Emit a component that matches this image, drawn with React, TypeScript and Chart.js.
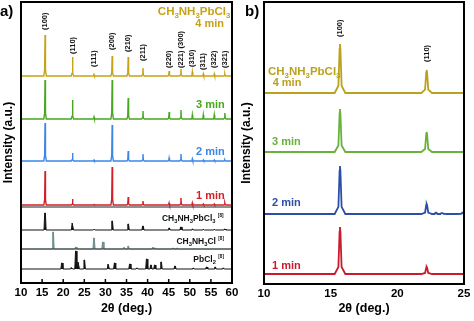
import React, { useEffect, useRef } from 'react';
import { Chart, registerables } from 'chart.js';
Chart.register(...registerables);

const FONT = '"Liberation Sans", Arial, sans-serif';

// ---------- Panel a data ----------
const aPeakPos = [15.7, 22.2, 27.3, 31.6, 35.4, 38.9, 45.1, 47.9, 50.6, 53.2, 55.8, 58.3];
const aMiller = ['(100)', '(110)', '(111)', '(200)', '(210)', '(211)', '(220)', '(221) (300)', '(310)', '(311)', '(322)', '(321)'];
const aMillerY = [253, 229, 216, 233, 231, 222, 215, 215, 216, 213, 215, 215];
const a4min = [41, 19, 1.5, 20, 19, 8, 5, 7, 4, 2, 2, 2];
const a3min = [39, 19, 2, 39, 21, 8, 7, 9, 4, 4, 4, 6];
const a2min = [38, 8, 1, 36, 10, 7, 3, 7, 2, 1, 1, 1];
const a1min = [34, 6, 0.5, 38, 8, 4, 2, 7, 2, 1, 1, 2];
const aRefMAPbCl3 = [17, 7, 0.5, 9, 6, 4, 2, 3, 1, 0.5, 0.5, 1];
const maclPos = [17.6, 23.0, 27.3, 29.4, 34.4, 35.4, 41.2, 41.8, 46.0, 47.0];
const maclInt = [17, 2, 11, 7, 1.5, 3, 1.5, 1, 1, 1];
const pbcl2Pos = [19.7, 22.0, 23.0, 23.6, 25.0, 30.7, 32.2, 35.8, 37.5, 39.8, 40.8, 41.7, 43.2, 46.5, 50.8, 54.0, 56.0, 57.9];
const pbcl2Int = [6, 1.5, 18, 7, 9, 5, 6, 5, 1, 10, 4, 4, 7, 3, 1, 2, 2, 1];
// vertical offsets (a.u.) of each stacked pattern
const aOffsets = { m4: 207, m3: 164, m2: 122, m1: 78, ref1: 53, ref2: 34, ref3: 14, divider: 76 };
const aXTicks = [10, 15, 20, 25, 30, 35, 40, 45, 50, 55, 60];

// ---------- Panel b data ----------
const bPeakPos = [15.7, 22.2];
const bMiller = ['(100)', '(110)'];
const bMillerY = [247, 222];
const b4min = [49, 23];
const b3min = [43, 20];
const b2min = [48, 10];
const b1min = [47, 7];
const b2minExtraPos = [22.9, 23.35, 24.9];
const b2minExtraInt = [1.2, 1, 1.2];
const bOffsets = { m4: 191, m3: 132, m2: 70, m1: 10 };

const GOLD = '#c6a216';
const GREEN_A = '#47a81f';
const BLUE_A = '#3c86e6';
const RED_A = '#d21f27';
const TEAL = '#6f8b8b';
const GOLD_B = '#bba21c';
const GREEN_B = '#68b23c';
const BLUE_B = '#2c4fa6';
const RED_B = '#c81c2c';

const SHAPE_SHARP: number[][] = [[-0.3, 0], [-0.1, 0.15], [0, 1], [0.1, 0.15], [0.3, 0]];
const SHAPE_BAR: number[][] = [[-0.25, 0], [-0.08, 1], [0.08, 1], [0.25, 0]];
const SHAPE_B: number[][] = [[-0.4, 0], [-0.12, 0.15], [-0.03, 0.9], [0, 1], [0.03, 0.9], [0.12, 0.15], [0.4, 0]];

function buildTrace(pos: number[], h: number[], offset: number, shape: number[][], xMin: number, xMax: number) {
  const pts: { x: number; y: number }[] = [{ x: xMin, y: offset }];
  const order = pos.map((_, i) => i).sort((a, b) => pos[a] - pos[b]);
  for (const i of order) for (const [dx, f] of shape) pts.push({ x: pos[i] + dx, y: offset + h[i] * f });
  pts.push({ x: xMax, y: offset });
  return pts;
}

// rich text: digit after a letter -> subscript, [..] -> superscript
function parseRich(t: string) {
  const runs: { s: string; k: 'n' | 'sub' | 'sup' }[] = [];
  let i = 0;
  while (i < t.length) {
    const ch = t[i];
    if (ch === '[') {
      const j = t.indexOf(']', i);
      runs.push({ s: t.slice(i, j + 1), k: 'sup' });
      i = j + 1;
    } else if (/\d/.test(ch) && i > 0 && /[A-Za-z]/.test(t[i - 1])) {
      runs.push({ s: ch, k: 'sub' });
      i++;
    } else {
      const last = runs[runs.length - 1];
      if (last && last.k === 'n') last.s += ch; else runs.push({ s: ch, k: 'n' });
      i++;
    }
  }
  return runs;
}

function drawRich(ctx: CanvasRenderingContext2D, t: string, x: number, y: number, size: number, color: string, align: 'left' | 'right') {
  const runs = parseRich(t);
  const fontFor = (k: string) => `bold ${k === 'n' ? size : k === 'sub' ? size * 0.68 : size * 0.55}px ${FONT}`;
  let w = 0;
  for (const r of runs) { ctx.font = fontFor(r.k); w += ctx.measureText(r.s).width; }
  let cx = align === 'right' ? x - w : x;
  ctx.save();
  ctx.fillStyle = color;
  ctx.textBaseline = 'middle';
  ctx.textAlign = 'left';
  for (const r of runs) {
    ctx.font = fontFor(r.k);
    const dy = r.k === 'sub' ? size * 0.3 : r.k === 'sup' ? -size * 0.35 : 0;
    ctx.fillText(r.s, cx, y + dy);
    cx += ctx.measureText(r.s).width;
  }
  ctx.restore();
}

type Note = { t: string; x: number; y: number; c: string; size: number; align: 'left' | 'right' };

const aNotes: Note[] = [
  { t: 'CH3NH3PbCl3', x: 59.6, y: 271, c: GOLD, size: 11.5, align: 'right' },
  { t: '4 min', x: 58.1, y: 259, c: GOLD, size: 11, align: 'right' },
  { t: '3 min', x: 58.3, y: 178, c: GREEN_A, size: 11, align: 'right' },
  { t: '2 min', x: 58.3, y: 131, c: BLUE_A, size: 11, align: 'right' },
  { t: '1 min', x: 58.3, y: 87, c: RED_A, size: 11, align: 'right' },
  { t: 'CH3NH3PbCl3 [8]', x: 58.0, y: 64, c: '#111', size: 8.5, align: 'right' },
  { t: 'CH3NH3Cl [8]', x: 58.1, y: 41, c: '#111', size: 8.5, align: 'right' },
  { t: 'PbCl2 [8]', x: 58.1, y: 23, c: '#111', size: 8.5, align: 'right' },
];
const bNotes: Note[] = [
  { t: 'CH3NH3PbCl3', x: 10.3, y: 212, c: GOLD_B, size: 11.5, align: 'left' },
  { t: '4 min', x: 10.65, y: 201, c: GOLD_B, size: 11, align: 'left' },
  { t: '3 min', x: 10.6, y: 142, c: GREEN_B, size: 11, align: 'left' },
  { t: '2 min', x: 10.6, y: 81, c: BLUE_B, size: 11, align: 'left' },
  { t: '1 min', x: 10.6, y: 18, c: RED_B, size: 11, align: 'left' },
];

function makePlugin(opts: { notes: Note[]; millerPos: number[]; miller: string[]; millerY: number[]; panel: string; panelX: number; innerTicks: boolean }) {
  return {
    id: 'deco' + opts.panel,
    afterDraw(chart: any) {
      const { ctx, chartArea } = chart;
      const xs = chart.scales.x;
      const ys = chart.scales.y;
      ctx.save();
      // frame
      ctx.strokeStyle = '#000';
      ctx.lineWidth = 2;
      ctx.strokeRect(chartArea.left, chartArea.top, chartArea.right - chartArea.left, chartArea.bottom - chartArea.top);
      if (opts.innerTicks) {
        ctx.lineWidth = 1.5;
        for (const tk of xs.ticks) {
          const px = xs.getPixelForValue(tk.value);
          if (px <= chartArea.left + 1 || px >= chartArea.right - 1) continue;
          ctx.beginPath();
          ctx.moveTo(px, chartArea.bottom);
          ctx.lineTo(px, chartArea.bottom - 4);
          ctx.stroke();
        }
      }
      // miller labels
      ctx.fillStyle = '#111';
      ctx.font = `bold 7.5px ${FONT}`;
      ctx.textAlign = 'left';
      ctx.textBaseline = 'middle';
      opts.miller.forEach((m, i) => {
        const px = xs.getPixelForValue(opts.millerPos[i]);
        const py = ys.getPixelForValue(opts.millerY[i]);
        ctx.save();
        ctx.translate(px, py);
        ctx.rotate(-Math.PI / 2);
        ctx.fillText(m, 0, 0);
        ctx.restore();
      });
      for (const n of opts.notes) {
        drawRich(ctx, n.t, xs.getPixelForValue(n.x), ys.getPixelForValue(n.y), n.size, n.c, n.align);
      }
      ctx.fillStyle = '#000';
      ctx.font = `bold 15px ${FONT}`;
      ctx.textBaseline = 'middle';
      ctx.fillText(opts.panel, opts.panelX, 12);
      ctx.restore();
    },
  };
}

function lineDs(data: any[], color: string, width = 1.3, fillValue?: number) {
  return {
    data,
    borderColor: color,
    backgroundColor: color,
    borderWidth: width,
    pointRadius: 0,
    tension: 0,
    fill: fillValue === undefined ? false : { value: fillValue },
  };
}

function axisOptions(xMin: number, xMax: number, yMax: number, yWidth: number, xHeight: number, xTicks?: number[]) {
  return {
    x: {
      type: 'linear',
      min: xMin,
      max: xMax,
      afterBuildTicks: xTicks ? (s: any) => { s.ticks = xTicks.map((v) => ({ value: v })); } : undefined,
      ticks: { stepSize: 5, color: '#000', font: { family: FONT, size: 11.5, weight: 'bold' }, padding: 3, maxRotation: 0 },
      grid: { display: false, drawTicks: false },
      border: { display: false },
      title: { display: true, text: '2θ (deg.)', color: '#000', font: { family: FONT, size: 12.5, weight: 'bold' }, padding: { top: 0, bottom: 5 } },
      afterFit: (s: any) => { s.height = xHeight; },
    },
    y: {
      min: 0,
      max: yMax,
      ticks: { display: false },
      grid: { display: false, drawTicks: false },
      border: { display: false },
      title: { display: true, text: 'Intensity (a.u.)', color: '#000', font: { family: FONT, size: 12, weight: 'bold' }, padding: { top: 1, bottom: 0 } },
      afterFit: (s: any) => { s.width = yWidth; },
    },
  };
}

export default function App() {
  const refA = useRef<HTMLCanvasElement>(null);
  const refB = useRef<HTMLCanvasElement>(null);

  useEffect(() => {
    const chA = new Chart(refA.current!, {
      type: 'line',
      data: {
        datasets: [
          lineDs([{ x: 10, y: aOffsets.divider }, { x: 60, y: aOffsets.divider }], '#222', 1.2),
          lineDs(buildTrace(aPeakPos, a4min, aOffsets.m4, SHAPE_SHARP, 10, 60), GOLD, 1.4),
          lineDs(buildTrace(aPeakPos, a3min, aOffsets.m3, SHAPE_SHARP, 10, 60), GREEN_A, 1.4),
          lineDs(buildTrace(aPeakPos, a2min, aOffsets.m2, SHAPE_SHARP, 10, 60), BLUE_A, 1.4),
          lineDs(buildTrace(aPeakPos, a1min, aOffsets.m1, SHAPE_SHARP, 10, 60), RED_A, 1.4),
          lineDs(buildTrace(aPeakPos, aRefMAPbCl3, aOffsets.ref1, SHAPE_BAR, 10, 60), '#111', 1, aOffsets.ref1),
          lineDs([{ x: 10, y: aOffsets.ref2 }, { x: 60, y: aOffsets.ref2 }], '#333', 1),
          lineDs(buildTrace(maclPos, maclInt, aOffsets.ref2, SHAPE_BAR, 10, 60), TEAL, 1, aOffsets.ref2),
          lineDs(buildTrace(pbcl2Pos, pbcl2Int, aOffsets.ref3, SHAPE_BAR, 10, 60), '#111', 1, aOffsets.ref3),
        ] as any,
      },
      options: {
        animation: false,
        responsive: false,
        layout: { padding: { top: 2, right: 18, left: 0, bottom: 0 } },
        plugins: { legend: { display: false }, tooltip: { enabled: false } },
        scales: axisOptions(10, 60, 281, 21, 38, aXTicks) as any,
      },
      plugins: [makePlugin({ notes: aNotes, millerPos: aPeakPos, miller: aMiller, millerY: aMillerY, panel: 'a)', panelX: 0, innerTicks: true })],
    });

    const b2Pos = [...bPeakPos, ...b2minExtraPos];
    const b2Int = [...b2min, ...b2minExtraInt];
    const chB = new Chart(refB.current!, {
      type: 'line',
      data: {
        datasets: [
          lineDs(buildTrace(bPeakPos, b4min, bOffsets.m4, SHAPE_B, 10, 25), GOLD_B, 1.8),
          lineDs(buildTrace(bPeakPos, b3min, bOffsets.m3, SHAPE_B, 10, 25), GREEN_B, 1.8),
          lineDs(buildTrace(b2Pos, b2Int, bOffsets.m2, SHAPE_B, 10, 25), BLUE_B, 1.8),
          lineDs(buildTrace(bPeakPos, b1min, bOffsets.m1, SHAPE_B, 10, 25), RED_B, 1.8),
        ] as any,
      },
      options: {
        animation: false,
        responsive: false,
        layout: { padding: { top: 2, right: 10, left: 0, bottom: 0 } },
        plugins: { legend: { display: false }, tooltip: { enabled: false } },
        scales: axisOptions(10, 25, 282, 26, 37) as any,
      },
      plugins: [makePlugin({ notes: bNotes, millerPos: bPeakPos, miller: bMiller, millerY: bMillerY, panel: 'b)', panelX: 7, innerTicks: false })],
    });
    return () => { chA.destroy(); chB.destroy(); };
  }, []);

  return (
    <div style={{ position: 'absolute', left: 0, top: 0, width: 474, height: 321, background: '#fff', overflow: 'hidden' }}>
      <canvas ref={refA} width={250} height={321} style={{ position: 'absolute', left: 0, top: 0, width: 250, height: 321 }} />
      <canvas ref={refB} width={236} height={321} style={{ position: 'absolute', left: 238, top: 0, width: 236, height: 321 }} />
    </div>
  );
}
